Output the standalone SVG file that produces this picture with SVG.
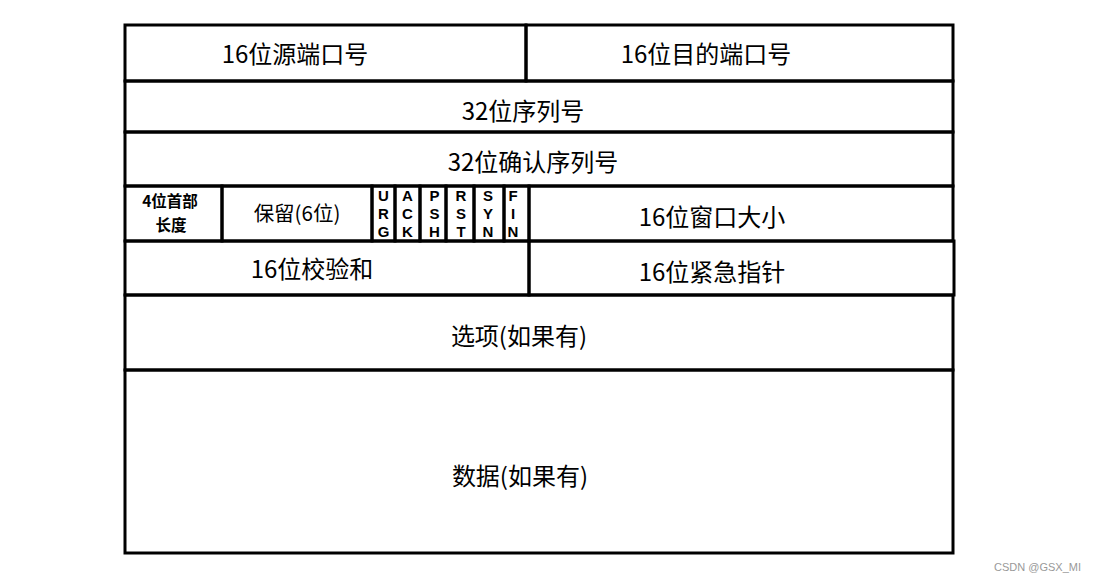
<svg xmlns="http://www.w3.org/2000/svg" width="1096" height="578" viewBox="0 0 1096 578">
<style>
.c{fill:none;stroke:#000;stroke-width:3}
.t{font-family:"Noto Sans CJK SC","Noto Sans",sans-serif;font-size:24px;fill:#000;text-anchor:middle}
.s{font-family:"Noto Sans CJK SC","Noto Sans",sans-serif;font-size:15.5px;font-weight:bold;fill:#000;text-anchor:middle}
.f{font-family:"Liberation Sans",Arial,sans-serif;font-size:15px;font-weight:bold;fill:#000;text-anchor:middle}
.w{font-family:"Liberation Sans",Arial,sans-serif;font-size:11px;fill:#999;text-anchor:end}
</style>
<rect width="1096" height="578" fill="#fff"/>
<g id="src-port"><rect class="c" x="125" y="25" width="401" height="56"/><text class="t" x="295" y="62.5">16位源端口号</text></g>
<g id="dst-port"><rect class="c" x="526" y="25" width="427" height="56"/><text class="t" x="706" y="62.5">16位目的端口号</text></g>
<g id="seq"><rect class="c" x="125" y="81" width="828" height="51"/><text class="t" x="523" y="119.5">32位序列号</text></g>
<g id="ack-seq"><rect class="c" x="125" y="132" width="828" height="54"/><text class="t" x="533" y="170.5">32位确认序列号</text></g>
<g id="hdr-len"><rect class="c" x="125" y="186" width="97" height="55"/><text class="s" x="170" y="207">4位首部</text><text class="s" x="171" y="231">长度</text></g>
<g id="reserved"><rect class="c" x="222" y="186" width="150" height="55"/><text class="t" x="297" y="221" style="font-size:20.5px">保留(6位)</text></g>
<g id="urg"><rect class="c" x="372" y="186" width="23" height="55"/><text class="f" x="383.5" y="201">U</text><text class="f" x="383.5" y="219">R</text><text class="f" x="383.5" y="237">G</text></g>
<g id="ack"><rect class="c" x="395" y="186" width="25" height="55"/><text class="f" x="407.5" y="201">A</text><text class="f" x="407.5" y="219">C</text><text class="f" x="407.5" y="237">K</text></g>
<g id="psh"><rect class="c" x="420" y="186" width="26" height="55"/><text class="f" x="434.5" y="201">P</text><text class="f" x="434.5" y="219">S</text><text class="f" x="434.5" y="237">H</text></g>
<g id="rst"><rect class="c" x="446" y="186" width="28" height="55"/><text class="f" x="461" y="201">R</text><text class="f" x="461" y="219">S</text><text class="f" x="461" y="237">T</text></g>
<g id="syn"><rect class="c" x="474" y="186" width="30" height="55"/><text class="f" x="488" y="201">S</text><text class="f" x="488" y="219">Y</text><text class="f" x="488" y="237">N</text></g>
<g id="fin"><rect class="c" x="504" y="186" width="25" height="55"/><text class="f" x="513" y="201">F</text><text class="f" x="513" y="219">I</text><text class="f" x="513" y="237">N</text></g>
<g id="window"><rect class="c" x="529" y="186" width="424" height="55"/><text class="t" x="712" y="225.5">16位窗口大小</text></g>
<g id="checksum"><rect class="c" x="125" y="241" width="404" height="54"/><text class="t" x="312" y="277.5">16位校验和</text></g>
<g id="urgent-ptr"><rect class="c" x="529" y="241" width="425" height="54"/><text class="t" x="712" y="280.5">16位紧急指针</text></g>
<g id="options"><rect class="c" x="125" y="295" width="828" height="75"/><text class="t" x="519" y="344.5">选项(如果有)</text></g>
<g id="data"><rect class="c" x="125" y="370" width="828" height="183"/><text class="t" x="520" y="484.5">数据(如果有)</text></g>
<g id="connectors"></g>
<text class="w" x="1081" y="571">CSDN @GSX_MI</text>
</svg>
